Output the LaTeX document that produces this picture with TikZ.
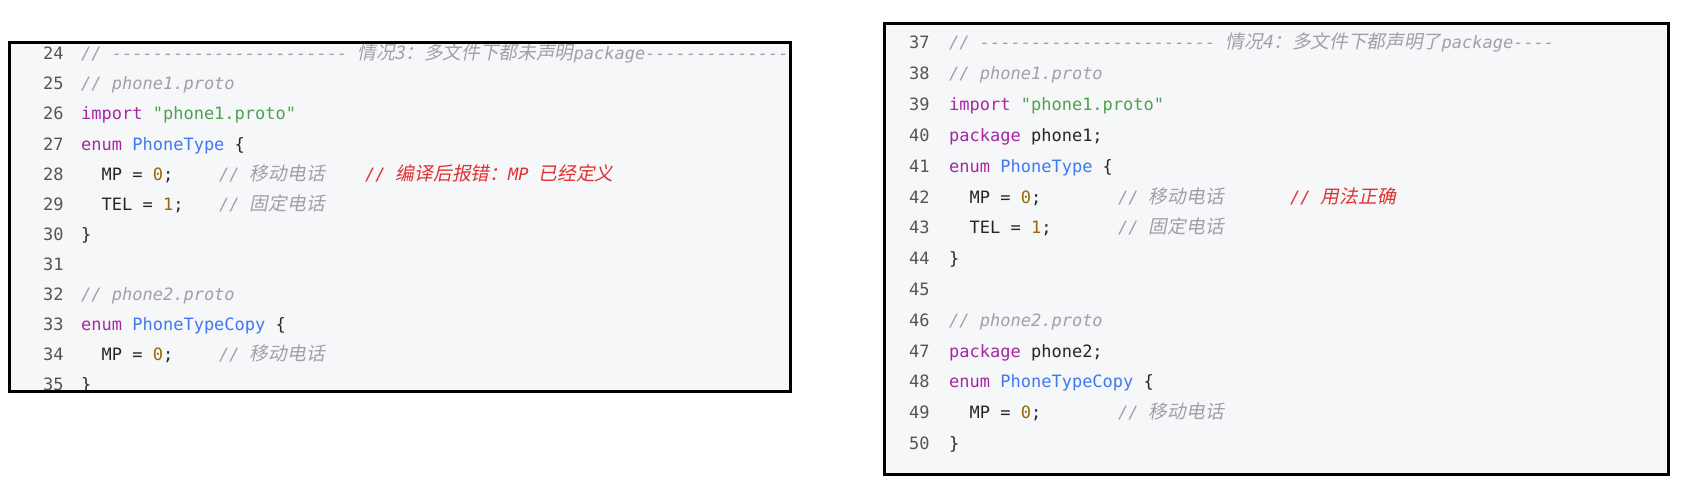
\documentclass[tikz,border=0pt]{standalone}
\usepackage{fontspec}
\setmonofont{DejaVu Sans Mono}
\newfontfamily\cjk{Noto Sans CJK SC}
\newfontfamily\cjki{Noto Sans CJK SC}[FakeSlant=0.2,Scale=1.1]
\definecolor{bg}{HTML}{F5F7F9}
\definecolor{cm}{HTML}{A0A1A7}
\definecolor{kw}{HTML}{A626A4}
\definecolor{ty}{HTML}{4078F2}
\definecolor{st}{HTML}{50A14F}
\definecolor{nu}{HTML}{986801}
\definecolor{er}{HTML}{E03030}
\definecolor{ln}{HTML}{555555}
\newcommand{\kwd}[1]{\textcolor{kw}{#1}}
\newcommand{\tyd}[1]{\textcolor{ty}{#1}}
\newcommand{\nud}[1]{\textcolor{nu}{#1}}
\newcommand{\cmt}[1]{\textcolor{cm}{\itshape #1}}
\begin{document}
\begin{tikzpicture}[x=1pt,y=-1pt,
  code/.style={anchor=base west,inner sep=0pt,font=\ttfamily\fontsize{17}{17}\selectfont,text=black!85},
  num/.style={code,text=ln},
  box/.style={draw=black,line width=3pt}]
\useasboundingbox (0,0) rectangle (1701,503);
% left panel
\fill[bg] (9,43) rectangle (790,391);
\begin{scope}
\clip (9,43) rectangle (790,391);
\foreach \n [count=\i from 0] in {24,...,35} \node[num] (la\n) at (43,60+30*\i) {\n};
\node[code] (l24) at (81,60) {\cmt{// ----------------------- {\cjki 情况3：多文件下都未声明}package---------------------}};
\node[code] (l25) at (81,90) {\cmt{// phone1.proto}};
\node[code] (l26) at (81,120) {\kwd{import} \textcolor{st}{"phone1.proto"}};
\node[code] (l27) at (81,150) {\kwd{enum} \tyd{PhoneType} \{};
\node[code] (l28) at (81,180) {\ \ MP = \nud{0};};
\node[code] (c28) at (219,180) {\cmt{// {\cjki 移动电话}}};
\node[code] (e28) at (365,180) {\textcolor{er}{\itshape // {\cjki 编译后报错：}MP {\cjki 已经定义}}};
\node[code] (l29) at (81,210) {\ \ TEL = \nud{1};};
\node[code] (c29) at (219,210) {\cmt{// {\cjki 固定电话}}};
\node[code] (l30) at (81,240) {\}};
\node[code] (l32) at (81,300) {\cmt{// phone2.proto}};
\node[code] (l33) at (81,330) {\kwd{enum} \tyd{PhoneTypeCopy} \{};
\node[code] (l34) at (81,360) {\ \ MP = \nud{0};};
\node[code] (c34) at (219,360) {\cmt{// {\cjki 移动电话}}};
\node[code] (l35) at (81,390) {\}};
\end{scope}
\draw[box] (9,43) rectangle (790,391);
% right panel
\fill[bg] (884,24) rectangle (1668,474);
\begin{scope}
\clip (884,24) rectangle (1668,474);
\foreach \n [count=\i from 0] in {37,...,50} \node[num] (rb\n) at (909,49+30.8*\i) {\n};
\node[code] (r37) at (949,49) {\cmt{// ----------------------- {\cjki 情况4：多文件下都声明了}package----}};
\node[code] (r38) at (949,79.8) {\cmt{// phone1.proto}};
\node[code] (r39) at (949,110.6) {\kwd{import} \textcolor{st}{"phone1.proto"}};
\node[code] (r40) at (949,141.4) {\kwd{package} phone1;};
\node[code] (r41) at (949,172.2) {\kwd{enum} \tyd{PhoneType} \{};
\node[code] (r42) at (949,203) {\ \ MP = \nud{0};};
\node[code] (d42) at (1118,203) {\cmt{// {\cjki 移动电话}}};
\node[code] (e42) at (1290,203) {\textcolor{er}{\itshape // {\cjki 用法正确}}};
\node[code] (r43) at (949,233.8) {\ \ TEL = \nud{1};};
\node[code] (d43) at (1118,233.8) {\cmt{// {\cjki 固定电话}}};
\node[code] (r44) at (949,264.6) {\}};
\node[code] (r46) at (949,326.2) {\cmt{// phone2.proto}};
\node[code] (r47) at (949,357) {\kwd{package} phone2;};
\node[code] (r48) at (949,387.8) {\kwd{enum} \tyd{PhoneTypeCopy} \{};
\node[code] (r49) at (949,418.6) {\ \ MP = \nud{0};};
\node[code] (d49) at (1118,418.6) {\cmt{// {\cjki 移动电话}}};
\node[code] (r50) at (949,449.4) {\}};
\end{scope}
\draw[box] (884,24) rectangle (1668,474);
\end{tikzpicture}
\end{document}
